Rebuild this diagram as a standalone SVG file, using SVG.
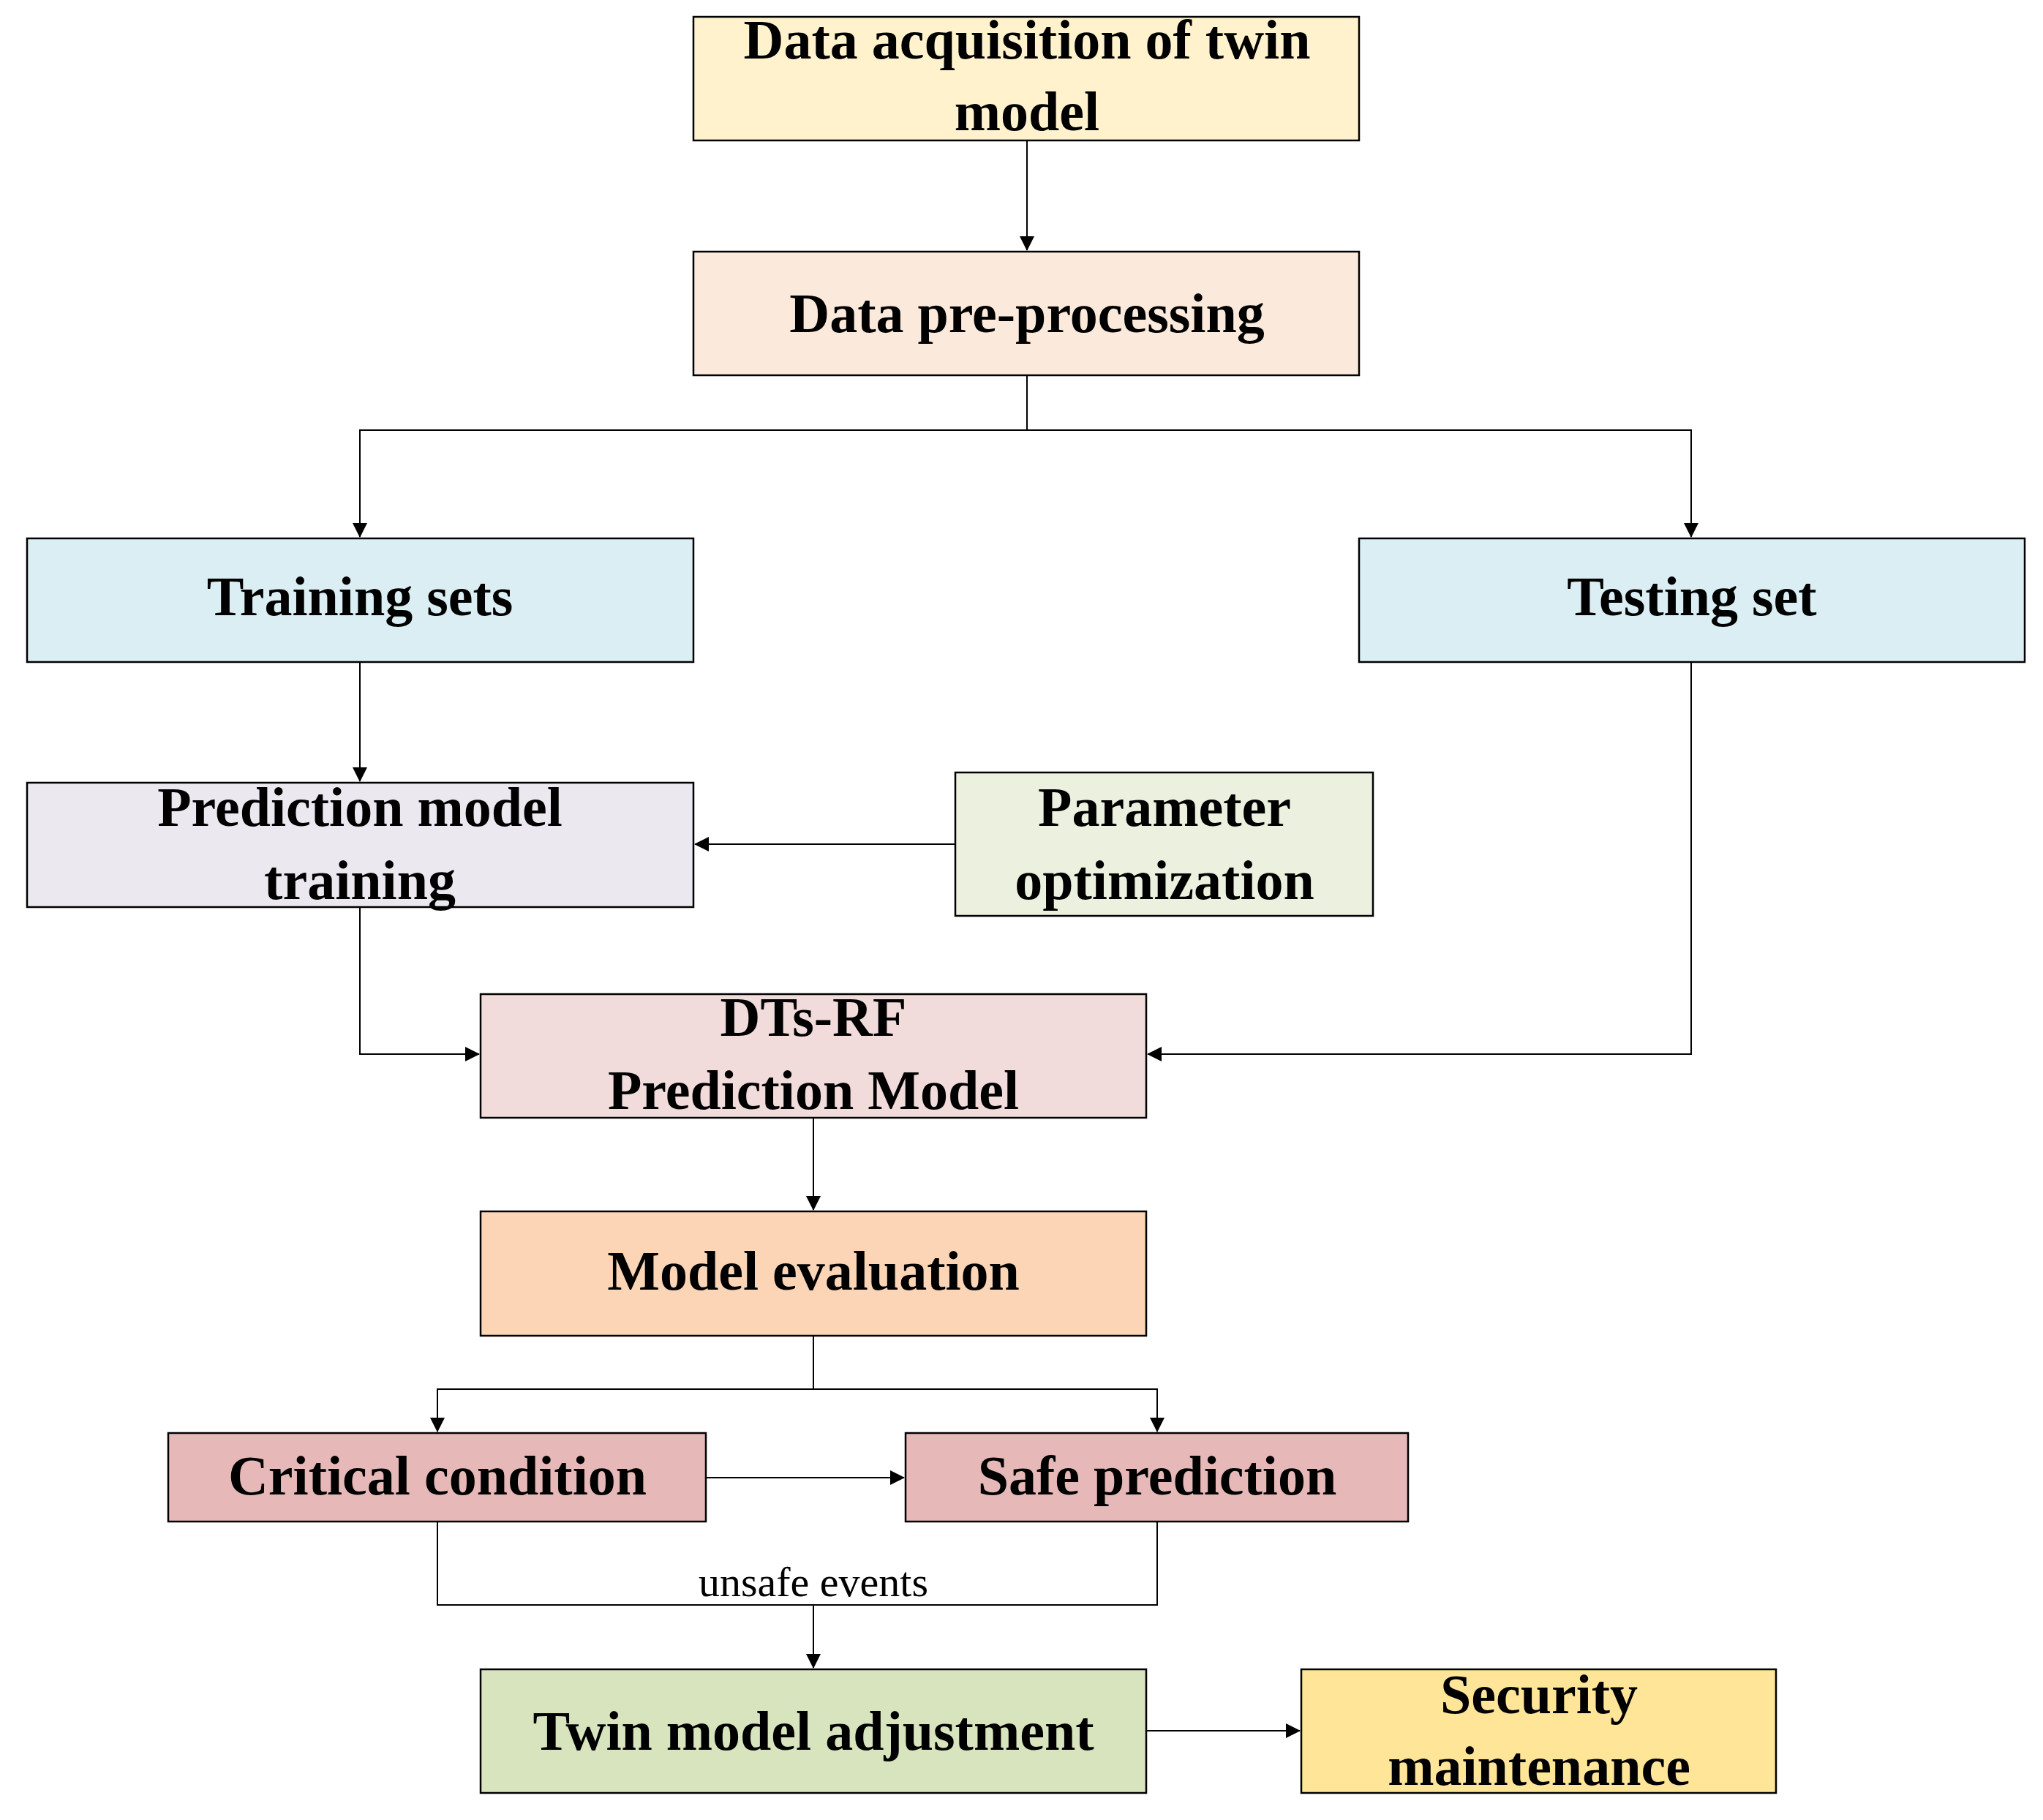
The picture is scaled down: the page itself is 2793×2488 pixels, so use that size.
<svg xmlns="http://www.w3.org/2000/svg" width="2793" height="2488" viewBox="0 0 2793 2488">
<style>
.b{stroke:#000;stroke-width:2.5}
.t{font-family:"Liberation Serif",serif;font-weight:bold;font-size:76px;text-anchor:middle}
.c{fill:none;stroke:#000;stroke-width:2}
.l{font-family:"Liberation Serif",serif;font-size:58px;text-anchor:middle}
</style>
<defs><marker id="a" markerWidth="20" markerHeight="20" refX="19" refY="10" orient="auto" markerUnits="userSpaceOnUse"><path d="M0,0 L20,10 L0,20 Z" fill="#000"/></marker></defs>
<rect width="2793" height="2488" fill="#fff"/>
<g id="connectors" class="c">
<path d="M1404,192 V342" marker-end="url(#a)"/>
<path d="M1404,513 V588 H492 V734" marker-end="url(#a)"/>
<path d="M1404,588 H2312 V734" marker-end="url(#a)"/>
<path d="M492,905 V1068" marker-end="url(#a)"/>
<path d="M1306,1154 H950" marker-end="url(#a)"/>
<path d="M492,1240 V1441 H655" marker-end="url(#a)"/>
<path d="M2312,905 V1441 H1569" marker-end="url(#a)"/>
<path d="M1112,1528 V1654" marker-end="url(#a)"/>
<path d="M1112,1826 V1899 H598 V1957" marker-end="url(#a)"/>
<path d="M1112,1899 H1582 V1957" marker-end="url(#a)"/>
<path d="M965,2020 H1236" marker-end="url(#a)"/>
<path d="M598,2080 V2194 H1582 V2080"/>
<path d="M1112,2194 V2280" marker-end="url(#a)"/>
<path d="M1567,2366 H1777" marker-end="url(#a)"/>
</g>
<text class="l" x="1112" y="2182">unsafe events</text>
<g id="acq"><rect class="b" x="948" y="23" width="910" height="169" fill="#FFF2CC"/><text class="t" x="1404" y="80">Data acquisition of twin</text><text class="t" x="1404" y="178">model</text></g>
<g id="pre"><rect class="b" x="948" y="344" width="910" height="169" fill="#FBE9DC"/><text class="t" x="1404" y="454">Data pre-processing</text></g>
<g id="train"><rect class="b" x="37" y="736" width="911" height="169" fill="#DAEEF3"/><text class="t" x="492" y="841">Training sets</text></g>
<g id="test"><rect class="b" x="1858" y="736" width="910" height="169" fill="#DAEEF3"/><text class="t" x="2313" y="841">Testing set</text></g>
<g id="predtrain"><rect class="b" x="37" y="1070" width="911" height="170" fill="#EBE8F0"/><text class="t" x="492" y="1129">Prediction model</text><text class="t" x="492" y="1229">training</text></g>
<g id="param"><rect class="b" x="1306" y="1056" width="571" height="196" fill="#EBF1DE"/><text class="t" x="1592" y="1129">Parameter</text><text class="t" x="1592" y="1229">optimization</text></g>
<g id="dtsrf"><rect class="b" x="657" y="1359" width="910" height="169" fill="#F2DCDB"/><text class="t" x="1112" y="1416">DTs-RF</text><text class="t" x="1112" y="1516">Prediction Model</text></g>
<g id="eval"><rect class="b" x="657" y="1656" width="910" height="170" fill="#FBD5B5"/><text class="t" x="1112" y="1763">Model evaluation</text></g>
<g id="critical"><rect class="b" x="230" y="1959" width="735" height="121" fill="#E6B9B8"/><text class="t" x="598" y="2043">Critical condition</text></g>
<g id="safe"><rect class="b" x="1238" y="1959" width="687" height="121" fill="#E6B9B8"/><text class="t" x="1582" y="2043">Safe prediction</text></g>
<g id="twin"><rect class="b" x="657" y="2282" width="910" height="169" fill="#D7E4BD"/><text class="t" x="1112" y="2392">Twin model adjustment</text></g>
<g id="security"><rect class="b" x="1779" y="2282" width="649" height="169" fill="#FFE598"/><text class="t" x="2104" y="2342">Security</text><text class="t" x="2104" y="2440">maintenance</text></g>
</svg>
